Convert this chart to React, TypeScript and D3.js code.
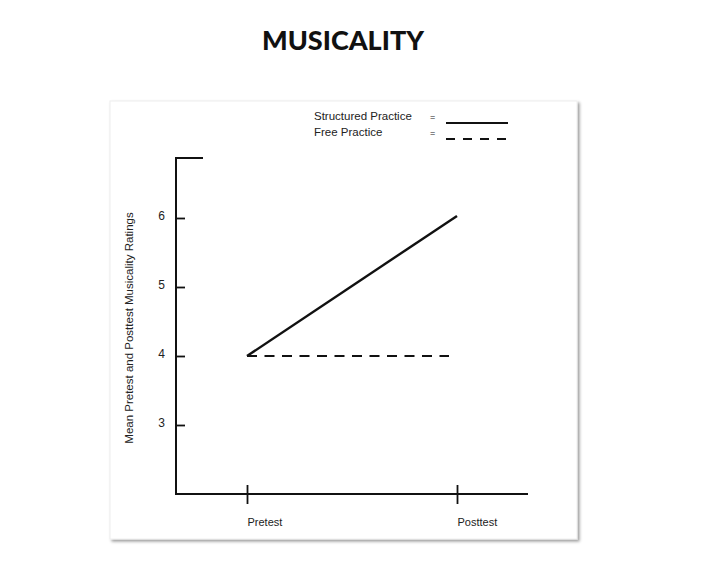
import { useRef, useEffect } from 'react';
import * as d3 from 'd3';

const phases = ['Pretest', 'Posttest'];
const yTicks = [3, 4, 5, 6];
const structured = [4.0, 6.03];
const free = [4.0, 4.0];
const seriesNames = ['Structured Practice', 'Free Practice'];

export default function App() {
    const svgRef = useRef<SVGSVGElement>(null);

    useEffect(() => {
        if (!svgRef.current) return;
        const root = d3.select(svgRef.current);
        root.selectAll('*').remove();

        const W = 703, H = 576;
        root.attr('width', W).attr('height', H);

        const defs = root.append('defs');
        const f = defs.append('filter').attr('id', 'shadow').attr('x', '-5%').attr('y', '-5%').attr('width', '110%').attr('height', '110%');
        f.append('feDropShadow').attr('dx', 2).attr('dy', 2).attr('stdDeviation', 1.5)
            .attr('flood-color', '#000').attr('flood-opacity', 0.4);

        // Title
        root.append('text')
            .attr('x', 343).attr('y', 50)
            .attr('text-anchor', 'middle')
            .style('font-family', 'Lato, "Open Sans", sans-serif')
            .style('font-weight', 900)
            .style('font-size', '27px')
            .attr('fill', '#111')
            .text('MUSICALITY');

        // Panel
        root.append('rect')
            .attr('x', 110).attr('y', 101).attr('width', 467).attr('height', 438)
            .attr('fill', '#fff').attr('stroke', '#eee').attr('stroke-width', 1)
            .attr('filter', 'url(#shadow)');

        const font = '"Liberation Sans", Arial, sans-serif';
        const left = 176, bottom = 494, top = 158, right = 528;

        const y = d3.scaleLinear().domain([2, 6]).range([bottom, 218]);
        const x = d3.scalePoint<string>().domain(phases).range([247, 457]);

        // Y axis
        const gy = root.append('g').attr('transform', `translate(${left},0)`);
        gy.call(d3.axisLeft(y).tickValues(yTicks).tickSize(-9).tickPadding(11).tickFormat(d3.format('d')));
        gy.select('.domain').remove();
        gy.selectAll('.tick line').attr('stroke', '#111').attr('stroke-width', 1.8);
        gy.selectAll('.tick text')
            .attr('dy', '0.1em')
            .attr('fill', '#222')
            .style('font-family', font)
            .style('font-size', '12px');

        root.append('path')
            .attr('d', `M${left + 27},${top}H${left}V${bottom}H${right}`)
            .attr('fill', 'none').attr('stroke', '#111').attr('stroke-width', 2);

        // X axis
        const gx = root.append('g').attr('transform', `translate(0,${bottom})`);
        gx.call(d3.axisBottom(x).tickSize(10).tickPadding(14));
        gx.select('.domain').remove();
        gx.selectAll('.tick line').attr('y1', -9).attr('stroke', '#111').attr('stroke-width', 1.8);
        gx.selectAll('.tick text')
            .attr('text-anchor', 'start')
            .attr('fill', '#222')
            .style('font-family', font)
            .style('font-size', '11px');

        // Y title
        root.append('text')
            .attr('transform', `translate(133,${(top + bottom) / 2 + 2}) rotate(-90)`)
            .attr('text-anchor', 'middle')
            .attr('fill', '#222')
            .style('font-family', font)
            .style('font-size', '11.5px')
            .text('Mean Pretest and Posttest Musicality Ratings');

        // Lines
        const line = d3.line<number>()
            .x((_d, i) => x(phases[i]) || 0)
            .y(d => y(d));

        root.append('path')
            .datum(structured)
            .attr('d', line)
            .attr('fill', 'none').attr('stroke', '#111').attr('stroke-width', 2.4);

        const freeLine = d3.line<number>()
            .x((_d, i) => (x(phases[i]) || 0) - (i === 1 ? 8 : 0))
            .y(d => y(d));
        root.append('path')
            .datum(free)
            .attr('d', freeLine)
            .attr('fill', 'none').attr('stroke', '#111').attr('stroke-width', 2.2)
            .attr('stroke-dasharray', '10,7.5');

        // Legend
        const legend = root.append('g');
        seriesNames.forEach((name, i) => {
            const ly = 120 + i * 16;
            legend.append('text')
                .attr('x', 314).attr('y', ly)
                .attr('fill', '#222')
                .style('font-family', font).style('font-size', '11.5px')
                .text(name);
            legend.append('text')
                .attr('x', 430).attr('y', ly)
                .attr('fill', '#222')
                .style('font-family', font).style('font-size', '9px')
                .text('=');
            legend.append('line')
                .attr('x1', 446).attr('x2', 508)
                .attr('y1', ly + 3).attr('y2', ly + 3)
                .attr('stroke', '#111').attr('stroke-width', 1.8)
                .attr('stroke-dasharray', i === 0 ? null : '9,8');
        });
    }, []);

    return (
        <svg ref={svgRef} style={{ position: 'absolute', left: 0, top: 0, display: 'block' }}></svg>
    );
}
